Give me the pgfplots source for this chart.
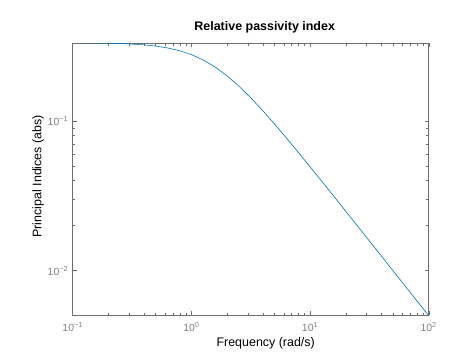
\documentclass[border=0pt]{standalone}
\usepackage{fontspec}
\setmainfont{Liberation Sans}
\usepackage{pgfplots}
\pgfplotsset{compat=1.18}
\definecolor{mblue}{RGB}{0,114,189}
\definecolor{axgray}{RGB}{110,110,110}
\definecolor{tkgray}{RGB}{128,128,128}
\begin{document}
\begin{tikzpicture}
\useasboundingbox (0,0) rectangle (474bp,355bp);
\begin{loglogaxis}[
  at={(72.7bp,39.7bp)}, anchor=south west,
  scale only axis, width=356bp, height=272bp,
  xmin=0.1, xmax=100, ymin=0.00503, ymax=0.330,
  xtick={0.1,1,10,100},
  xticklabels={10\textsuperscript{−1},10\textsuperscript{0},10\textsuperscript{1},10\textsuperscript{2}},
  ytick={0.01,0.1},
  yticklabels={10\textsuperscript{−2},10\textsuperscript{−1}},
  tick align=inside,
  major tick length=4bp, minor tick length=2.5bp,
  axis line style={axgray, line width=0.5pt},
  every tick/.style={axgray, line width=0.4pt},
  tick label style={font=\fontsize{10.5}{12}\selectfont, text=tkgray},
  xticklabel style={yshift=-4bp},
  yticklabel style={xshift=-1bp},
  title={\textbf{Relative passivity index}},
  title style={font=\fontsize{12.5}{14}\selectfont, yshift=1bp, xshift=14bp},
  xlabel={Frequency (rad/s)},
  ylabel={Principal Indices (abs)},
  label style={font=\fontsize{12.5}{14}\selectfont},
  xlabel style={yshift=1bp, xshift=15bp},
  ylabel style={yshift=-3bp, xshift=3bp},
]
\addplot[mblue, line width=0.6pt] coordinates {
(0.1,0.33257)(0.12589,0.33214)(0.15849,0.33146)(0.19953,0.33040)
(0.25119,0.32873)(0.31623,0.32614)(0.39811,0.32215)(0.50119,0.31612)
(0.63096,0.30723)(0.79433,0.29455)(1,0.27732)(1.25893,0.25530)
(1.58489,0.22911)(1.99526,0.20029)(2.51189,0.17089)(3.16228,0.14284)
(3.98107,0.11752)(5.01187,0.09557)(6.30957,0.07709)(7.94328,0.06185)
(10,0.04944)(12.5893,0.03943)(15.8489,0.03141)(19.9526,0.02499)
(25.1189,0.01987)(31.6228,0.01579)(39.8107,0.01255)(50.1187,0.00997)
(63.0957,0.00792)(79.4328,0.00629)(100,0.00500)
};
\end{loglogaxis}
\end{tikzpicture}
\end{document}
